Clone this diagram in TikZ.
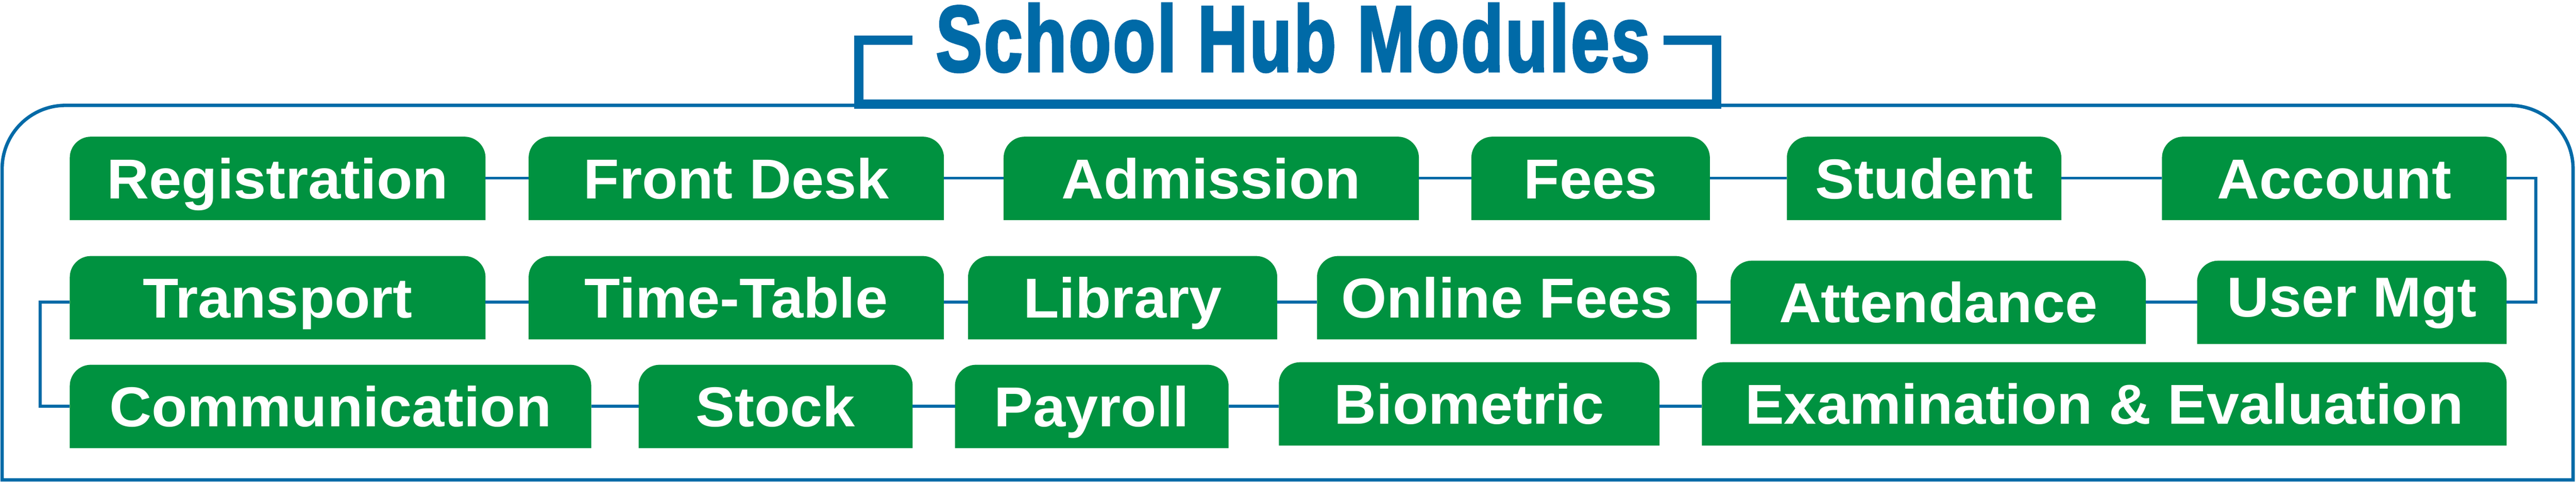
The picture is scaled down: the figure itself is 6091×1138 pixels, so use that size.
\documentclass[tikz,border=0pt]{standalone}
\usepackage{fontspec}
\setmainfont{Liberation Sans}
\newfontfamily\titlefont{Liberation Sans}[FakeBold=3,LetterSpace=3]
\definecolor{modgreen}{RGB}{0,146,64}
\definecolor{hubblue}{RGB}{0,106,167}
\tikzset{
  mod/.style={inner sep=0pt, outer sep=0pt, text=white,
    text height=95pt, text depth=0pt,
    font=\fontsize{133}{133}\selectfont\bfseries,
    path picture={\fill[modgreen] (path picture bounding box.south west)
      -- ([yshift=-50pt]path picture bounding box.north west)
      arc[start angle=180,end angle=90,radius=50pt]
      -- ([xshift=-50pt]path picture bounding box.north east)
      arc[start angle=90,end angle=0,radius=50pt]
      -- (path picture bounding box.south east) -- cycle;}},
  link/.style={draw=hubblue, line width=7pt, line join=miter},
}
\newcommand\modnode[7][]{%
  \node[mod, minimum width={#4-#3}, minimum height={#6-#5}, #1] (#2)
    at ({(#3+#4)/2},{-(#5+#6)/2}) {\scalebox{1.04}[1]{#7}};}
\begin{document}
\begin{tikzpicture}[x=1pt,y=1pt]
\useasboundingbox (0,0) rectangle (6091,-1138);
% outer frame
\draw[hubblue, line width=8pt] (5,-1134) -- (5,-399)
  arc[start angle=180,end angle=90,radius=150pt] -- (5934,-249)
  arc[start angle=90,end angle=0,radius=150pt] -- (6084,-1134) -- cycle;
% title bracket
\draw[hubblue, line width=22pt, line join=miter] (2157,-94.5) -- (2031,-94.5)
  -- (2031,-246.5) -- (4059,-246.5) -- (4059,-94.5) -- (3934,-94.5);
\node[text=hubblue, inner sep=0pt, text height=162pt, text depth=0pt,
  font=\fontsize{220}{220}\selectfont\titlefont\bfseries] (title) at (3057,-87)
  {\scalebox{0.742}[1]{School Hub Modules}};
% row 1
\modnode{reg}{165}{1148}{323}{520}{Registration}
\modnode{fd}{1250}{2232}{323}{520}{Front Desk}
\modnode{adm}{2373}{3355}{323}{520}{Admission}
\modnode{fees}{3479}{4043}{323}{520}{Fees}
\modnode{stu}{4225}{4874}{323}{520}{Student}
\modnode{acc}{5112}{5927}{323}{520}{Account}
% row 2
\modnode{tr}{165}{1148}{605}{802}{Transport}
\modnode{tt}{1250}{2232}{605}{802}{Time-Table}
\modnode{lib}{2289}{3020}{605}{802}{Library}
\modnode{of}{3114}{4012}{605}{802}{Online Fees}
\modnode{att}{4092}{5074}{616}{813}{Attendance}
\modnode[text depth=28pt]{um}{5195}{5927}{616}{813}{User Mgt}
% row 3
\modnode{com}{165}{1398}{862}{1059}{Communication}
\modnode{stock}{1510}{2158}{862}{1059}{Stock}
\modnode{pay}{2258}{2905}{862}{1059}{Payroll}
\modnode{bio}{3024}{3924}{856}{1053}{Biometric}
\modnode{exam}{4024}{5927}{856}{1053}{Examination \& Evaluation}
% connector levels
\coordinate (r1) at (0,-421);
\coordinate (r2) at (0,-714);
\coordinate (r3) at (0,-960);
\coordinate (rx) at (5996,0);
\coordinate (lx) at (95,0);
% row 1 links
\draw[link] (reg.east |- r1) -- (fd.west |- r1);
\draw[link] (fd.east |- r1) -- (adm.west |- r1);
\draw[link] (adm.east |- r1) -- (fees.west |- r1);
\draw[link] (fees.east |- r1) -- (stu.west |- r1);
\draw[link] (stu.east |- r1) -- (acc.west |- r1);
\draw[link] (acc.east |- r1) -- (rx |- r1) -- (rx |- r2) -- (um.east |- r2);
% row 2 links
\draw[link] (att.east |- r2) -- (um.west |- r2);
\draw[link] (of.east |- r2) -- (att.west |- r2);
\draw[link] (lib.east |- r2) -- (of.west |- r2);
\draw[link] (tt.east |- r2) -- (lib.west |- r2);
\draw[link] (tr.east |- r2) -- (tt.west |- r2);
\draw[link] (tr.west |- r2) -- (lx |- r2) -- (lx |- r3) -- (com.west |- r3);
% row 3 links
\draw[link] (com.east |- r3) -- (stock.west |- r3);
\draw[link] (stock.east |- r3) -- (pay.west |- r3);
\draw[link] (pay.east |- r3) -- (bio.west |- r3);
\draw[link] (bio.east |- r3) -- (exam.west |- r3);
\end{tikzpicture}
\end{document}
